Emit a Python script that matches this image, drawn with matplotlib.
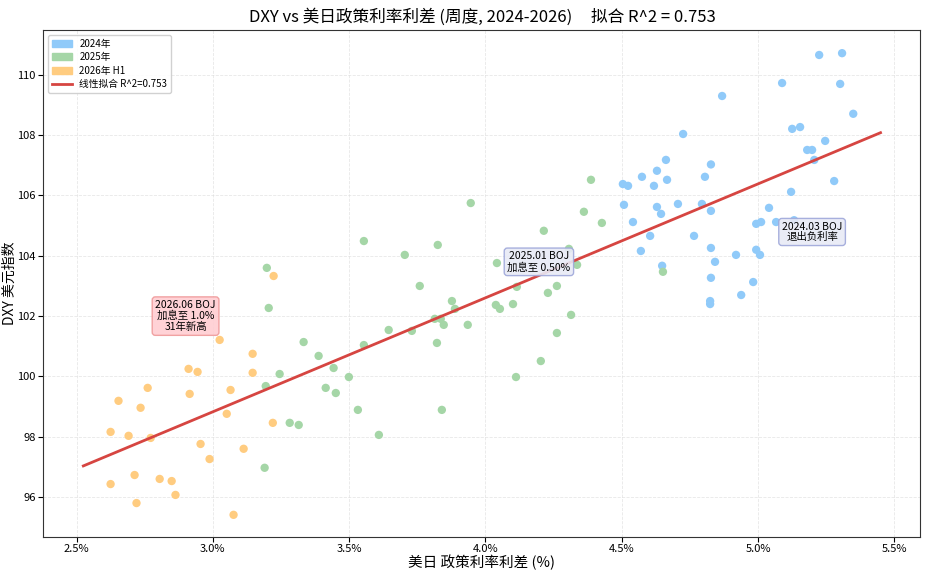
import numpy as np
import matplotlib
matplotlib.use("Agg")
import matplotlib.pyplot as plt
import matplotlib.patches as mpatches

plt.rcParams["font.family"] = ["Noto Sans CJK SC", "DejaVu Sans"]
plt.rcParams["axes.unicode_minus"] = False

# weekly points
x_2024 = [5.224, 5.308, 5.088, 5.301, 4.868, 5.349, 5.125, 5.154, 4.725, 5.246,
          5.180, 5.198, 4.662, 4.827, 5.206, 4.629, 4.574, 4.666, 4.805, 4.504,
          4.523, 4.618, 5.279, 5.121, 4.508, 4.629, 4.706, 4.794, 4.644, 4.827,
          5.040, 4.541, 4.993, 5.011, 5.066, 4.604, 4.765, 4.570, 4.827, 4.993,
          5.007, 4.919, 4.648, 4.842, 4.827, 4.982, 4.938, 4.824, 4.824, 5.132]
y_2024 = [110.66, 110.72, 109.73, 109.70, 109.30, 108.71, 108.21, 108.27, 108.04, 107.81,
          107.51, 107.51, 107.18, 107.03, 107.18, 106.82, 106.62, 106.52, 106.62, 106.38,
          106.32, 106.32, 106.48, 106.12, 105.69, 105.62, 105.72, 105.72, 105.39, 105.49,
          105.59, 105.12, 105.06, 105.12, 105.12, 104.66, 104.66, 104.16, 104.26, 104.20,
          104.03, 104.03, 103.67, 103.80, 103.27, 103.13, 102.70, 102.40, 102.50, 105.18]

x_2025 = [3.198, 3.205, 3.333, 3.388, 3.245, 3.194, 3.282, 3.315, 3.190, 4.387,
          3.946, 4.361, 4.427, 3.554, 3.825, 3.704, 4.214, 4.042, 4.306, 4.336,
          4.115, 4.262, 3.759, 4.229, 3.877, 3.888, 4.038, 4.053, 4.101, 4.314,
          3.814, 3.836, 3.847, 3.935, 3.645, 3.730, 4.262, 3.554, 3.822, 3.443,
          3.499, 4.112, 4.203, 3.414, 3.451, 3.532, 3.840, 3.609, 4.651]
y_2025 = [103.60, 102.27, 101.14, 100.68, 100.08, 99.68, 98.46, 98.39, 96.97, 106.52,
          105.75, 105.46, 105.09, 104.49, 104.36, 104.03, 104.83, 103.76, 104.23, 103.70,
          102.97, 103.00, 103.00, 102.77, 102.50, 102.24, 102.37, 102.24, 102.40, 102.04,
          101.91, 101.91, 101.71, 101.71, 101.54, 101.51, 101.44, 101.04, 101.11, 100.28,
          99.98, 99.98, 100.51, 99.62, 99.45, 98.89, 98.89, 98.06, 103.47]

x_2026 = [3.223, 3.025, 3.146, 2.911, 2.944, 3.146, 2.761, 3.065, 2.654, 2.915,
          2.735, 3.051, 3.220, 2.625, 2.691, 2.772, 2.955, 3.113, 2.988, 2.713,
          2.625, 2.805, 2.849, 2.863, 2.720, 3.076]
y_2026 = [103.33, 101.21, 100.75, 100.25, 100.15, 100.12, 99.62, 99.55, 99.19, 99.42,
          98.96, 98.76, 98.46, 98.16, 98.03, 97.96, 97.76, 97.60, 97.26, 96.73,
          96.43, 96.60, 96.53, 96.07, 95.80, 95.41]

r2_text = "0.753"

events = ["2024.03 BOJ\n退出负利率", "2025.01 BOJ\n加息至 0.50%", "2026.06 BOJ\n加息至 1.0%\n31年新高"]
event_x = [5.198, 4.196, 2.900]
event_y = [104.79, 103.80, 102.00]

colors = {"2024": "#90CAF9", "2025": "#A5D6A7", "2026": "#FFCC80"}

fig = plt.figure(figsize=(9.25, 5.76), dpi=100)
ax = fig.add_axes([0.047, 0.068, 0.948, 0.88])

ax.scatter(x_2024, y_2024, s=36, color=colors["2024"], edgecolors="none", zorder=3)
ax.scatter(x_2025, y_2025, s=36, color=colors["2025"], edgecolors="none", zorder=3)
ax.scatter(x_2026, y_2026, s=36, color=colors["2026"], edgecolors="none", zorder=3)

# linear fit over all weeks
x_all = np.array(x_2024 + x_2025 + x_2026)
y_all = np.array(y_2024 + y_2025 + y_2026)
k, b = np.polyfit(x_all, y_all, 1)
xs = np.linspace(x_all.min() - 0.1, x_all.max() + 0.1, 100)
ax.plot(xs, k * xs + b, color="#D64541", lw=2, zorder=4)

box_blue = dict(boxstyle="round,pad=0.3", fc="#E8EAF6", ec="#9FA8DA", lw=1, alpha=0.9)
box_pink = dict(boxstyle="round,pad=0.3", fc="#FFCDD2", ec="#EF9A9A", lw=1, alpha=0.9)
for i, txt in enumerate(events):
    bbox = box_pink if txt.startswith("2026") else box_blue
    ax.text(event_x[i], event_y[i], txt, ha="center", va="center",
            fontsize=7.5, linespacing=1.1, bbox=bbox, zorder=5)

ax.set_ylim(94.68, 111.49)
ax.set_xticks([2.5, 3.0, 3.5, 4.0, 4.5, 5.0, 5.5])
ax.set_xticklabels(["%.1f%%" % v for v in [2.5, 3.0, 3.5, 4.0, 4.5, 5.0, 5.5]])
ax.tick_params(labelsize=8, pad=2)
ax.grid(True, ls="--", lw=0.6, color="#dddddd", alpha=0.7)
ax.set_axisbelow(True)
for s in ax.spines.values():
    s.set_color("#333333")

ax.set_xlabel("美日 政策利率利差 (%)", fontsize=10.5)
ax.set_ylabel("DXY 美元指数", fontsize=10)
ax.xaxis.set_label_coords(0.5, -0.036)
ax.yaxis.set_label_coords(-0.03, 0.5)
ax.set_title("DXY vs 美日政策利率利差 (周度, 2024-2026)     拟合 R^2 = " + r2_text,
             fontsize=12, pad=6)

handles = [
    mpatches.Patch(color=colors["2024"], label="2024年"),
    mpatches.Patch(color=colors["2025"], label="2025年"),
    mpatches.Patch(color=colors["2026"], label="2026年 H1"),
    plt.Line2D([], [], color="#D64541", lw=2, label="线性拟合 R^2=" + r2_text),
]
ax.legend(handles=handles, loc="upper left", fontsize=7, framealpha=0.9,
          labelspacing=0.35)

fig.savefig("out.png", dpi=100)
